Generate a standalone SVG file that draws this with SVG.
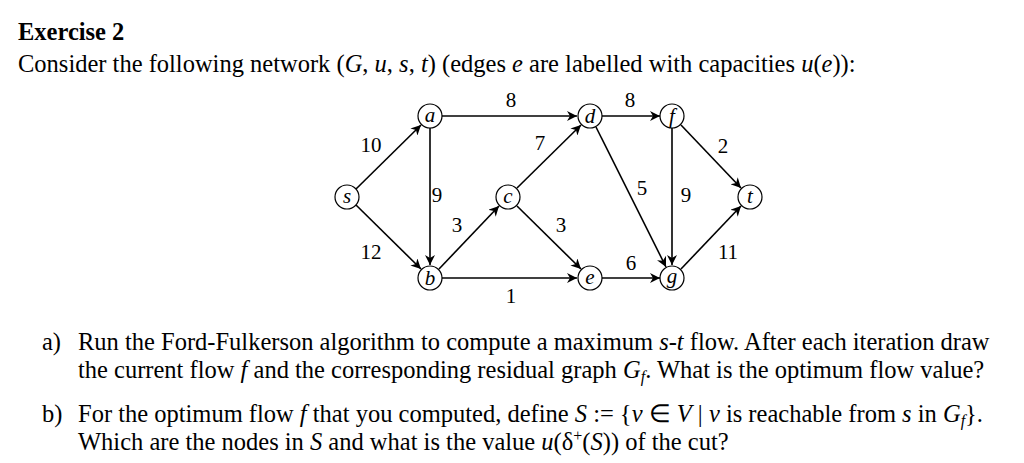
<svg xmlns="http://www.w3.org/2000/svg" width="1024" height="463" viewBox="0 0 1024 463">
<style>
text{font-family:"Liberation Serif","Times New Roman",serif;fill:#000}
.t{font-size:24.5px}
.l{font-size:21px;text-anchor:middle}
.n circle{fill:#fff;stroke:#000;stroke-width:1.2}
.n text{font-size:21px;font-style:italic;text-anchor:middle}
.e line{stroke:#000;stroke-width:1.6;marker-end:url(#ah)}
.i{font-style:italic}
</style>
<defs><marker id="ah" viewBox="0 0 10 10" refX="10" refY="5" markerWidth="11" markerHeight="10" orient="auto" markerUnits="userSpaceOnUse"><path d="M0,0 L10,5 L0,10 L3,5 z" fill="#000"/></marker></defs>
<rect width="1024" height="463" fill="#fff"/>
<text x="18" y="40" class="t" font-weight="bold">Exercise 2</text>
<text x="18" y="72" class="t">Consider the following network (<tspan class="i">G</tspan>, <tspan class="i">u</tspan>, <tspan class="i">s</tspan>, <tspan class="i">t</tspan>) (edges <tspan class="i">e</tspan> are labelled with capacities <tspan class="i">u</tspan>(<tspan class="i">e</tspan>)):</text>
<g class="e" id="edges">
<line x1="356" y1="189" x2="421" y2="125"/>
<line x1="356" y1="205" x2="421" y2="269"/>
<line x1="430" y1="128" x2="430" y2="265"/>
<line x1="442" y1="116" x2="577" y2="116"/>
<line x1="602" y1="116" x2="660" y2="116"/>
<line x1="439" y1="269" x2="499" y2="206"/>
<line x1="442" y1="278" x2="577" y2="278"/>
<line x1="517" y1="188" x2="581" y2="125"/>
<line x1="517" y1="206" x2="581" y2="269"/>
<line x1="602" y1="278" x2="660" y2="278"/>
<line x1="596" y1="127" x2="666" y2="267"/>
<line x1="672" y1="128" x2="672" y2="265"/>
<line x1="681" y1="125" x2="741" y2="188"/>
<line x1="681" y1="269" x2="741" y2="206"/>
</g>
<g id="labels">
<text x="371" y="152" class="l">10</text>
<text x="371" y="259" class="l">12</text>
<text x="437" y="202" class="l">9</text>
<text x="457" y="232" class="l">3</text>
<text x="540" y="150" class="l">7</text>
<text x="561" y="232" class="l">3</text>
<text x="642" y="195" class="l">5</text>
<text x="686" y="202" class="l">9</text>
<text x="723" y="153" class="l">2</text>
<text x="728" y="259" class="l">11</text>
<text x="511" y="107" class="l">8</text>
<text x="630" y="107" class="l">8</text>
<text x="631" y="270" class="l">6</text>
<text x="511" y="303" class="l">1</text>
</g>
<g class="n" id="s"><circle cx="347" cy="197" r="12"/><text x="347" y="203">s</text></g>
<g class="n" id="a"><circle cx="430" cy="116" r="12"/><text x="430" y="122">a</text></g>
<g class="n" id="d"><circle cx="590" cy="116" r="12"/><text x="590" y="123">d</text></g>
<g class="n" id="f"><circle cx="672" cy="116" r="12"/><text x="672" y="123">f</text></g>
<g class="n" id="c"><circle cx="508" cy="197" r="12"/><text x="508" y="203">c</text></g>
<g class="n" id="t"><circle cx="750" cy="197" r="12"/><text x="750" y="203">t</text></g>
<g class="n" id="b"><circle cx="430" cy="278" r="12"/><text x="430" y="285">b</text></g>
<g class="n" id="e"><circle cx="590" cy="278" r="12"/><text x="590" y="284">e</text></g>
<g class="n" id="g"><circle cx="672" cy="278" r="12"/><text x="672" y="283">g</text></g>
<text x="42" y="350" class="t">a)</text>
<text x="78" y="350" class="t">Run the Ford-Fulkerson algorithm to compute a maximum <tspan class="i">s</tspan>-<tspan class="i">t</tspan> flow. After each iteration draw</text>
<text x="78" y="378" class="t">the current flow <tspan class="i">f</tspan> and the corresponding residual graph <tspan class="i">G</tspan><tspan class="i" font-size="16" dy="4">f</tspan><tspan dy="-4">. What is the optimum flow value?</tspan></text>
<text x="42" y="422" class="t">b)</text>
<text x="78" y="422" class="t">For the optimum flow <tspan class="i">f</tspan> that you computed, define <tspan class="i">S</tspan> := {<tspan class="i">v</tspan> ∈ <tspan class="i">V</tspan> | <tspan class="i">v</tspan> is reachable from <tspan class="i">s</tspan> in <tspan class="i">G</tspan><tspan class="i" font-size="16" dy="4">f</tspan><tspan dy="-4">}.</tspan></text>
<text x="78" y="450" class="t">Which are the nodes in <tspan class="i">S</tspan> and what is the value <tspan class="i">u</tspan>(δ<tspan font-size="16" dy="-9">+</tspan><tspan dy="9">(</tspan><tspan class="i">S</tspan>)) of the cut?</text>
</svg>
